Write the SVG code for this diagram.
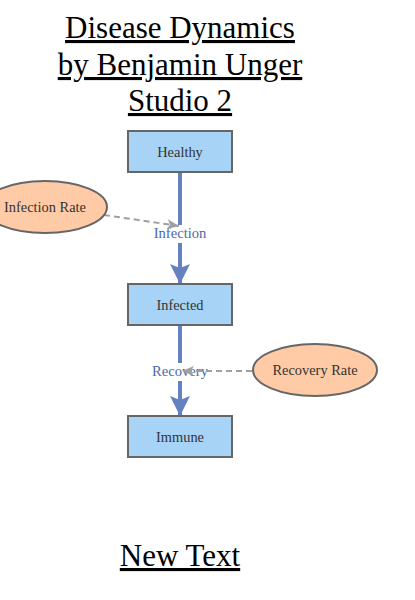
<svg xmlns="http://www.w3.org/2000/svg" width="415" height="600" viewBox="0 0 415 600">
<style>
.title{font-family:"Liberation Serif","Times New Roman",serif;font-size:31px;fill:#000;text-anchor:middle;text-decoration:underline}
.box{fill:#a7d3f7;stroke:#666;stroke-width:2}
.ell{fill:#fecba6;stroke:#666;stroke-width:2}
.lbl{font-family:"Liberation Serif","Times New Roman",serif;font-size:14.4px;fill:#333;text-anchor:middle}
.flow{stroke:#6481c0;stroke-width:4;fill:none}
.flbl{font-family:"Liberation Serif","Times New Roman",serif;font-size:14.6px;fill:#4b6aa8;text-anchor:middle}
.link{stroke:#a0a0a0;stroke-width:2;stroke-dasharray:6 4;fill:none}
</style>
<defs>
<marker id="flowhead" markerUnits="userSpaceOnUse" markerWidth="20" markerHeight="20" viewBox="0 0 20 20" refX="20" refY="10" orient="auto">
<path d="M0,0 L20,10 L0,20 L4,10 Z" fill="#6481c0"/>
</marker>
<marker id="linkhead" markerUnits="userSpaceOnUse" markerWidth="12" markerHeight="10" viewBox="0 0 12 10" refX="12" refY="5" orient="auto">
<path d="M0,0 L12,5 L0,10 L3,5 Z" fill="#a0a0a0"/>
</marker>
</defs>
<g id="title">
<text class="title" x="180" y="38">Disease Dynamics</text>
<text class="title" x="180" y="75">by Benjamin Unger</text>
<text class="title" x="180" y="111">Studio 2</text>
</g>
<g id="connectors">
<line class="flow" x1="180" y1="172" x2="180" y2="284" marker-end="url(#flowhead)"/>
<line class="flow" x1="180" y1="325" x2="180" y2="416" marker-end="url(#flowhead)"/>
<rect x="150" y="225" width="60" height="18" fill="#fff"/>
<text class="flbl" x="180" y="238">Infection</text>
<rect x="149" y="363" width="62" height="18" fill="#fff"/>
<text class="flbl" x="180" y="376">Recovery</text>
<line class="link" x1="104" y1="215" x2="179" y2="226" marker-end="url(#linkhead)"/>
<line class="link" x1="252" y1="371" x2="182" y2="371" marker-end="url(#linkhead)"/>
</g>
<g id="healthy">
<rect class="box" x="128" y="131" width="104" height="41"/>
<text class="lbl" x="180" y="157">Healthy</text>
</g>
<g id="infected">
<rect class="box" x="128" y="284" width="104" height="41"/>
<text class="lbl" x="180" y="310">Infected</text>
</g>
<g id="immune">
<rect class="box" x="128" y="416" width="104" height="41"/>
<text class="lbl" x="180" y="442">Immune</text>
</g>
<g id="infection-rate">
<ellipse class="ell" cx="45" cy="207" rx="62" ry="26"/>
<text class="lbl" x="45" y="212">Infection Rate</text>
</g>
<g id="recovery-rate">
<ellipse class="ell" cx="315" cy="370" rx="62" ry="26"/>
<text class="lbl" x="315" y="375">Recovery Rate</text>
</g>
<g id="new-text">
<text class="title" x="180" y="566">New Text</text>
</g>
</svg>
